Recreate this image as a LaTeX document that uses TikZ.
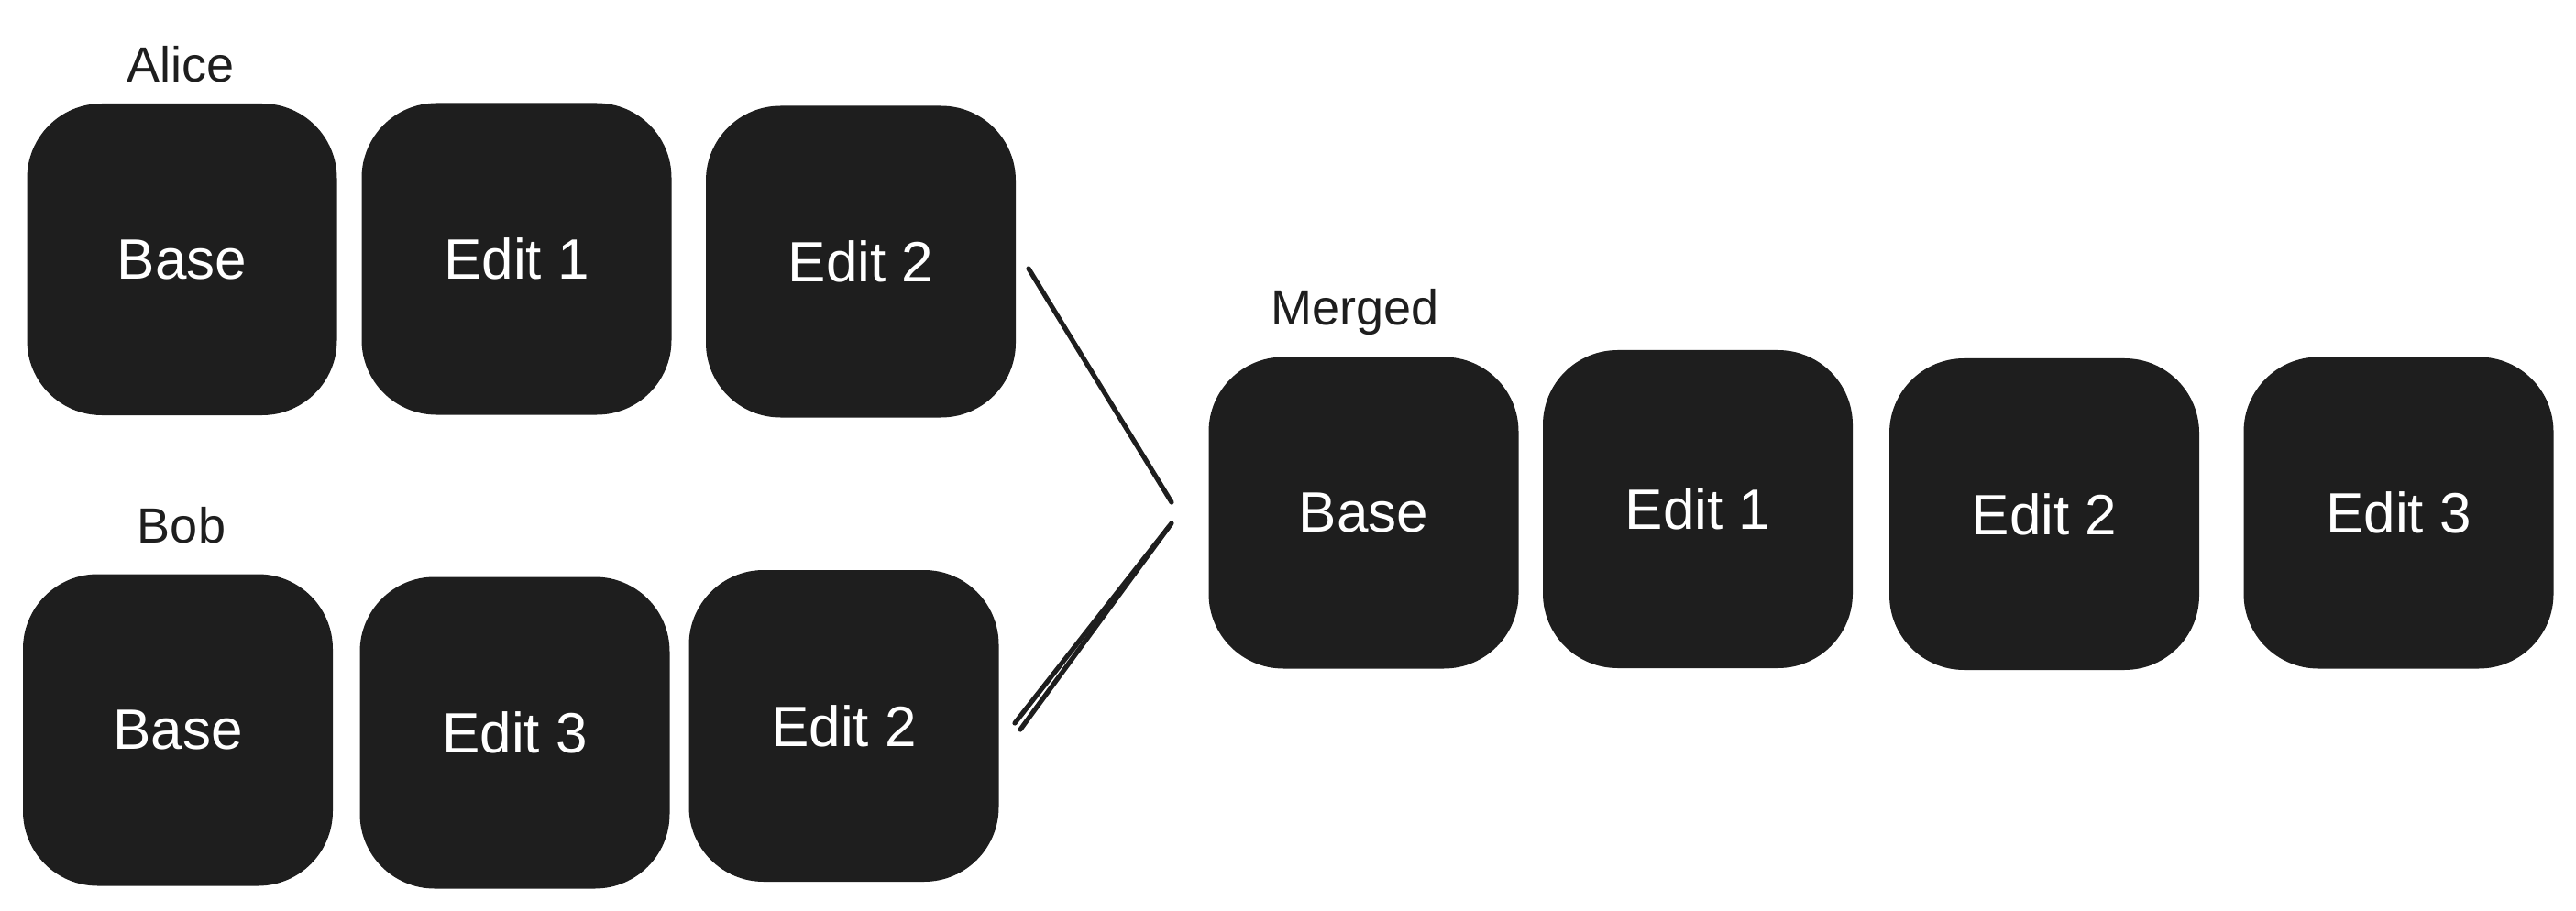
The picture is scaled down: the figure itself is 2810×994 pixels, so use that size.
\documentclass[tikz,border=0pt]{standalone}
\usepackage{fontspec}
\setmainfont{Liberation Sans}
\definecolor{ink}{HTML}{1E1E1E}
\tikzset{
  card/.style={fill=ink, draw=ink, line width=1.5pt, rounded corners=40pt,
    minimum width=167.5pt, minimum height=168.5pt, inner sep=0pt,
    text=white, font=\fontsize{31}{36}\selectfont},
  who/.style={text=ink, font=\fontsize{27}{32}\selectfont, inner sep=0pt},
  link/.style={draw=ink, line width=2.6pt, line cap=round}
}
\begin{document}
\begin{tikzpicture}[x=0.5pt, y=-0.5pt]
\useasboundingbox (0,0) rectangle (2810,994);
% labels
\node[who] (alice) at (197,70) {Alice};
\node[who] (bob) at (198,573) {Bob};
\node[who] (merged) at (1478,341) {Merged};
% Alice row
\node[card] (a1) at (198.5,283) {Base};
\node[card] (a2) at (563.5,282.5) {Edit 1};
\node[card] (a3) at (939,285.5) {Edit 2};
% Bob row
\node[card] (b1) at (194,796.5) {Base};
\node[card] (b2) at (561.5,799.5) {Edit 3};
\node[card] (b3) at (920.5,792) {Edit 2};
% Merged row
\node[card] (m1) at (1487.5,559.5) {Base};
\node[card, minimum height=172pt] (m2) at (1852,555.5) {Edit 1};
\node[card] (m3) at (2230,561) {Edit 2};
\node[card] (m4) at (2616.5,559.5) {Edit 3};
% connectors
\coordinate (t1) at (1122,293);
\coordinate (t2) at (1278,548);
\coordinate (u1) at (1278,571);
\coordinate (u2) at (1107,789);
\coordinate (u3) at (1275,575);
\coordinate (u4) at (1113,796);
\draw[link] (t1) -- (t2);
\draw[link] (u1) -- (u2);
\draw[link] (u3) -- (u4);
\end{tikzpicture}
\end{document}
